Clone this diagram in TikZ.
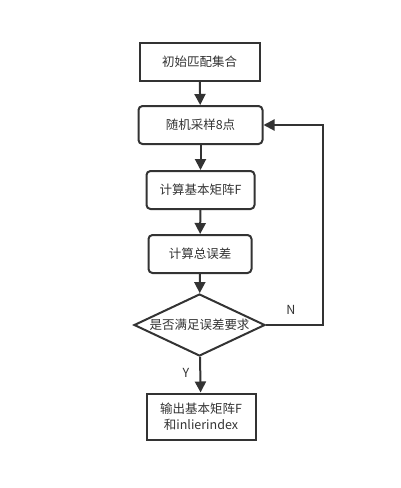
\documentclass[tikz,border=0pt]{standalone}
\usepackage{fontspec}
\newfontfamily\cjk{Noto Sans CJK SC}
\usetikzlibrary{shapes.geometric,arrows.meta}
\definecolor{ink}{HTML}{333333}
\tikzset{
  box/.style={draw=ink, line width=2pt, text=ink, font=\cjk\fontsize{12.5}{16}\selectfont,
    minimum height=38pt, inner sep=2pt, align=center},
  rbox/.style={box, rounded corners=4pt},
  decide/.style={box, diamond, aspect=2.1, inner sep=0pt, minimum width=131pt, minimum height=62pt},
  arr/.style={draw=ink, line width=2pt, -{Triangle[length=11pt,width=11pt]}},
  lbl/.style={text=ink, font=\cjk\fontsize{12.5}{16}\selectfont}
}
\begin{document}
\begin{tikzpicture}[x=1pt,y=-1pt]
  \useasboundingbox (0,0) rectangle (401,488);

  \node[box, minimum width=120pt]  (init)   at (199.5,62)  {初始匹配集合};
  \node[rbox, minimum width=124pt] (sample) at (200.5,125) {随机采样8点};
  \node[rbox, minimum width=108pt] (fmat)   at (200.5,190) {计算基本矩阵F};
  \node[rbox, minimum width=103pt] (err)    at (200,254)   {计算总误差};
  \node[decide]                    (check)  at (199.5,325) {是否满足误差要求};
  \node[box, minimum width=109pt, minimum height=46pt] (out) at (201,416.5)
    {输出基本矩阵F\\和inlierindex};

  \draw[arr] (init) -- (sample);
  \draw[arr] (sample) -- (fmat);
  \draw[arr] (fmat) -- (err);
  \draw[arr] (err) -- (check);
  \draw[arr] (check) -- (out);

  \coordinate (loop) at (323,325);
  \draw[arr] (check.east) -- (loop) |- (sample.east);

  \node[lbl] (no)  at (291,310) {N};
  \node[lbl] (yes) at (186,373) {Y};
\end{tikzpicture}
\end{document}
